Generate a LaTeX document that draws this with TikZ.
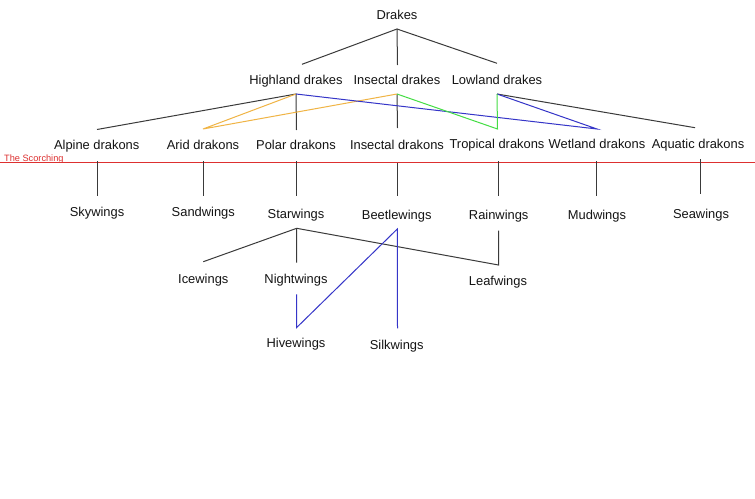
\documentclass[tikz,border=0pt]{standalone}
\usepackage{fontspec}
\setmainfont{Liberation Sans}
\definecolor{lnc}{HTML}{3A3A3A}
\definecolor{bluec}{HTML}{3535C8}
\definecolor{greenc}{HTML}{44DD44}
\definecolor{orangec}{HTML}{F0B445}
\definecolor{redc}{HTML}{DD3030}
\begin{document}
\begin{tikzpicture}[x=1pt,y=-1pt,
  lbl/.style={anchor=base,inner sep=0pt,text=black!92,font=\fontsize{12.9}{15}\selectfont},
  note/.style={anchor=base west,inner sep=0pt,text=redc,font=\fontsize{9.2}{11}\selectfont},
  ln/.style={draw=lnc,line width=1pt},
  bl/.style={draw=bluec,line width=1pt},
  gl/.style={draw=greenc,line width=1pt},
  ol/.style={draw=orangec,line width=1pt},
  rl/.style={draw=redc,line width=1pt}]
\useasboundingbox[fill=white] (0,0) rectangle (755,498);

% labels
\node[lbl] (drakes) at (397,19.6) {Drakes};
\node[lbl] (high) at (296,84.6) {Highland drakes};
\node[lbl] (insd) at (397,84.6) {Insectal drakes};
\node[lbl] (low) at (497,84.6) {Lowland drakes};
\node[lbl] (alp) at (96.7,149.6) {Alpine drakons};
\node[lbl] (arid) at (203,149.6) {Arid drakons};
\node[lbl] (polar) at (296,149.6) {Polar drakons};
\node[lbl] (insk) at (397,149.6) {Insectal drakons};
\node[lbl] (trop) at (497,148.8) {Tropical drakons};
\node[lbl] (wet) at (597,148.8) {Wetland drakons};
\node[lbl] (aqua) at (698,148.8) {Aquatic drakons};
\node[lbl] (sky) at (97,216.3) {Skywings};
\node[lbl] (sand) at (203.3,216.6) {Sandwings};
\node[lbl] (star) at (296,218.9) {Starwings};
\node[lbl] (beetle) at (396.7,219.6) {Beetlewings};
\node[lbl] (rain) at (498.7,219.6) {Rainwings};
\node[lbl] (mud) at (597,219.6) {Mudwings};
\node[lbl] (sea) at (701,218) {Seawings};
\node[lbl] (ice) at (203.3,283.6) {Icewings};
\node[lbl] (night) at (296,283.6) {Nightwings};
\node[lbl] (leaf) at (498,285.6) {Leafwings};
\node[lbl] (hive) at (296,347.3) {Hivewings};
\node[lbl] (silk) at (396.7,349.6) {Silkwings};
\node[note] (scorch) at (4,161.4) {The Scorching};

% connector points
\coordinate (d0) at (397,29);
\coordinate (hT) at (302,64.3);
\coordinate (iT) at (397.5,65);
\coordinate (lT) at (497,63.3);
\coordinate (h0) at (296,94);
\coordinate (i0) at (397,94);
\coordinate (l0) at (497,94);
\coordinate (alpT) at (97,129.5);
\coordinate (aridT) at (203,129);
\coordinate (polarT) at (296.5,130);
\coordinate (inskT) at (397.5,128);
\coordinate (tropT) at (497.5,129);
\coordinate (wetT) at (597,129);
\coordinate (aquaT) at (695,127.7);
\coordinate (alpB) at (97.5,161);
\coordinate (skyT) at (97.5,196);
\coordinate (aridB) at (203.5,161);
\coordinate (sandT) at (203.5,196);
\coordinate (polarB) at (296.5,161);
\coordinate (starT) at (296.5,196);
\coordinate (inskB) at (397.5,163);
\coordinate (beetleT) at (397.5,196);
\coordinate (tropB) at (498.5,161);
\coordinate (rainT) at (498.5,196);
\coordinate (wetB) at (596.5,161);
\coordinate (mudT) at (596.5,196);
\coordinate (aquaB) at (700.5,159);
\coordinate (seaT) at (700.5,194.3);
\coordinate (s0) at (296.7,228.3);
\coordinate (iceT) at (203.3,261.7);
\coordinate (nightT) at (296.5,262.7);
\coordinate (leafT) at (498.5,265);
\coordinate (rainB) at (498.5,230.7);
\coordinate (b0) at (397.3,229);
\coordinate (nightB) at (296.5,294.3);
\coordinate (hiveT) at (296.5,327.7);
\coordinate (silkT) at (397.5,328.3);
\coordinate (redL) at (0,162.5);
\coordinate (redR) at (755,162.5);

% The Scorching line
\draw[rl] (redL) -- (redR);

% black tree lines
\draw[ln] (hT) -- (d0) -- (lT);
\draw[ln] (d0) -- (iT);
\draw[ln] (alpT) -- (h0) -- (polarT);
\draw[ln] (i0) -- (inskT);
\draw[ln] (l0) -- (aquaT);
\draw[ln] (alpB) -- (skyT);
\draw[ln] (aridB) -- (sandT);
\draw[ln] (polarB) -- (starT);
\draw[ln] (inskB) -- (beetleT);
\draw[ln] (tropB) -- (rainT);
\draw[ln] (wetB) -- (mudT);
\draw[ln] (aquaB) -- (seaT);
\draw[ln] (iceT) -- (s0) -- (leafT) -- (rainB);
\draw[ln] (s0) -- (nightT);

% coloured lines
\draw[ol] (h0) -- (aridT) -- (i0);
\draw[bl] (h0) -- (wetT) -- (l0);
\draw[gl] (i0) -- (tropT) -- (l0);
\draw[bl] (nightB) -- (hiveT) -- (b0) -- (silkT);
\end{tikzpicture}
\end{document}
